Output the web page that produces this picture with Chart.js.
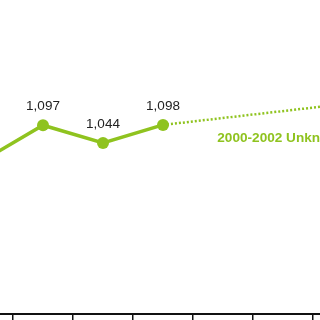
<!DOCTYPE html>
<html lang="en">
<head>
<meta charset="UTF-8">
<title>Trend</title>
<script src="https://cdn.jsdelivr.net/npm/chart.js"></script>
<style>
  html, body { margin: 0; padding: 0; background: #fff; }
  .wrap { width: 320px; height: 320px; }
</style>
</head>
<body>
<div class="wrap"><canvas id="trend"></canvas></div>
<script>
// category slots (x index of each known year) and values
const knownSlots = [-0.5, 0.5, 1.5, 2.5];
const knownValues = [992, 1097, 1044, 1098];
const labelledSlots = [0.5, 1.5, 2.5];
// dotted projection over the unknown years
const gapSlots = [2.5, 6.5];
const gapValues = [1098, 1181];
const gapText = '2000-2002 Unknown';
const gapTextAt = { x: 3.405, y: 1046 };
const tickSlots = [0, 1, 2, 3, 4, 5];

const green = '#8fc31f';

const valueLabels = {
  id: 'valueLabels',
  afterDatasetsDraw(chart) {
    const { ctx, scales: { x, y } } = chart;
    ctx.save();
    ctx.font = '13.5px "Liberation Sans", Arial, sans-serif';
    ctx.fillStyle = '#222';
    ctx.textAlign = 'center';
    ctx.textBaseline = 'alphabetic';
    knownSlots.forEach((s, i) => {
      if (!labelledSlots.includes(s)) return;
      const v = knownValues[i];
      ctx.fillText(v.toLocaleString('en-US'), x.getPixelForValue(s), y.getPixelForValue(v) - 15);
    });
    ctx.font = 'bold 13.6px "Liberation Sans", Arial, sans-serif';
    ctx.fillStyle = green;
    ctx.textAlign = 'left';
    ctx.fillText(gapText, x.getPixelForValue(gapTextAt.x), y.getPixelForValue(gapTextAt.y));
    ctx.restore();
  }
};

new Chart(document.getElementById('trend'), {
  type: 'line',
  data: {
    datasets: [{
      data: knownSlots.map((s, i) => ({ x: s, y: knownValues[i] })),
      borderColor: green,
      backgroundColor: green,
      borderWidth: 3.5,
      pointRadius: 6,
      pointHoverRadius: 6,
      pointBorderWidth: 0,
      tension: 0
    }, {
      data: gapSlots.map((s, i) => ({ x: s, y: gapValues[i] })),
      borderColor: green,
      borderWidth: 2.5,
      borderDash: [2, 2],
      pointRadius: 0,
      tension: 0
    }]
  },
  options: {
    responsive: true,
    maintainAspectRatio: false,
    animation: false,
    layout: { padding: 0, autoPadding: false },
    plugins: {
      legend: { display: false },
      tooltip: { enabled: false }
    },
    scales: {
      x: {
        type: 'linear',
        min: -13 / 60,
        max: 307 / 60,
        afterBuildTicks: (scale) => { scale.ticks = tickSlots.map(v => ({ value: v })); },
        ticks: { display: false },
        grid: { drawOnChartArea: false, drawTicks: true, tickLength: 6, color: '#111', lineWidth: 1.5 },
        border: { display: true, color: '#111', width: 2 }
      },
      y: {
        display: false,
        min: 532,
        max: 1472
      }
    }
  },
  plugins: [valueLabels]
});
</script>
</body>
</html>
